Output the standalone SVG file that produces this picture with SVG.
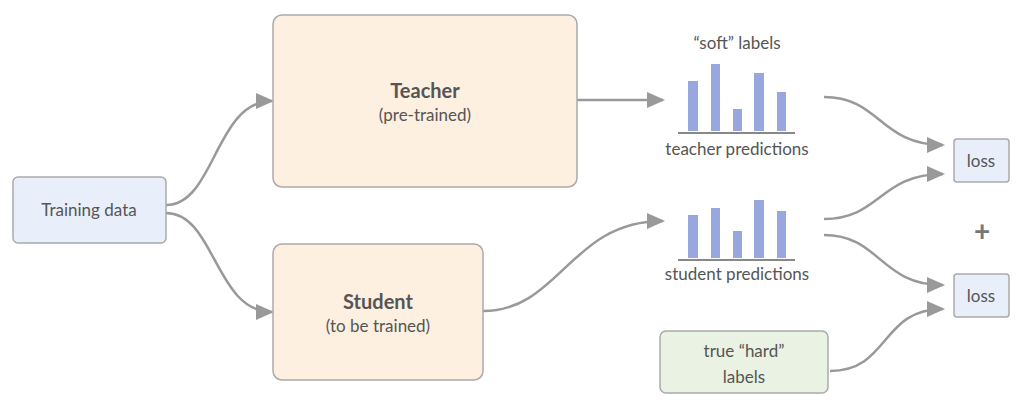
<svg xmlns="http://www.w3.org/2000/svg" width="1024" height="409" viewBox="0 0 1024 409">
<style>
text{font-family:Lato,"Open Sans",sans-serif;fill:#555;text-anchor:middle}
.c{fill:none;stroke:#999;stroke-width:2.5}
.bar{fill:#98a8de}
.base{stroke:#888;stroke-width:2}
.box{stroke:#aaa;stroke-width:1.5}
</style>
<defs><marker id="a" markerWidth="8" markerHeight="8" refX="6" refY="4" orient="auto" markerUnits="userSpaceOnUse" viewBox="0 0 8 8"><path d="M0,0L8,4L0,8z" fill="#999"/></marker>
<marker id="m" markerWidth="18" markerHeight="16" refX="16" refY="8" orient="auto" markerUnits="userSpaceOnUse"><path d="M0,0L18,8L0,16z" fill="#999"/></marker></defs>
<g id="connectors">
<path class="c" marker-end="url(#m)" d="M166,205 C215,205 215,101 272,101"/>
<path class="c" marker-end="url(#m)" d="M166,213 C215,213 215,312 272,312"/>
<path class="c" marker-end="url(#m)" d="M577,100 L663,100"/>
<path class="c" marker-end="url(#m)" d="M483,311 C560,311 570,221 663,221"/>
<path class="c" marker-end="url(#m)" d="M824,97 C880,97 880,145 943,145"/>
<path class="c" marker-end="url(#m)" d="M824,219 C880,219 880,174 943,174"/>
<path class="c" marker-end="url(#m)" d="M824,235 C880,235 880,285 943,285"/>
<path class="c" marker-end="url(#m)" d="M830,371 C890,371 880,309 943,309"/>
</g>
<g id="training"><rect class="box" x="13" y="177" width="153" height="66" rx="5" fill="#e8effb"/><text x="89" y="216" font-size="17">Training data</text></g>
<g id="teacher"><rect class="box" x="273" y="15" width="304" height="172" rx="9" fill="#fdf0e0"/><text x="425" y="98" font-size="20" font-weight="bold">Teacher</text><text x="425" y="121" font-size="17">(pre-trained)</text></g>
<g id="student"><rect class="box" x="273" y="244" width="210" height="136" rx="9" fill="#fdf0e0"/><text x="378" y="309" font-size="20" font-weight="bold">Student</text><text x="378" y="332" font-size="17">(to be trained)</text></g>
<g id="teacher-pred">
<text x="737" y="49" font-size="17">“soft” labels</text>
<rect class="bar" x="688" y="81" width="10" height="50"/><rect class="bar" x="711" y="64" width="9" height="67"/><rect class="bar" x="733" y="109" width="9" height="22"/><rect class="bar" x="754" y="73" width="10" height="58"/><rect class="bar" x="777" y="92" width="9" height="39"/>
<line class="base" x1="678" y1="133" x2="795" y2="133"/>
<text x="737" y="155" font-size="17">teacher predictions</text></g>
<g id="student-pred">
<rect class="bar" x="688" y="215" width="10" height="43"/><rect class="bar" x="711" y="208" width="9" height="50"/><rect class="bar" x="733" y="231" width="9" height="27"/><rect class="bar" x="754" y="200" width="10" height="58"/><rect class="bar" x="777" y="211" width="9" height="47"/>
<line class="base" x1="678" y1="260" x2="795" y2="260"/>
<text x="737" y="280" font-size="17">student predictions</text></g>
<g id="loss1"><rect class="box" x="954" y="139" width="55" height="43" rx="3" fill="#e8effb"/><text x="981" y="167" font-size="17">loss</text></g>
<g id="plus"><text x="982" y="241" font-size="28" font-weight="bold" fill="#777" style="fill:#777">+</text></g>
<g id="loss2"><rect class="box" x="954" y="274" width="55" height="43" rx="3" fill="#e8effb"/><text x="981" y="302" font-size="17">loss</text></g>
<g id="hard"><rect class="box" x="660" y="331" width="168" height="62" rx="6" fill="#eaf3e3"/><text x="744" y="357" font-size="17">true “hard”</text><text x="744" y="383" font-size="17">labels</text></g>
</svg>
